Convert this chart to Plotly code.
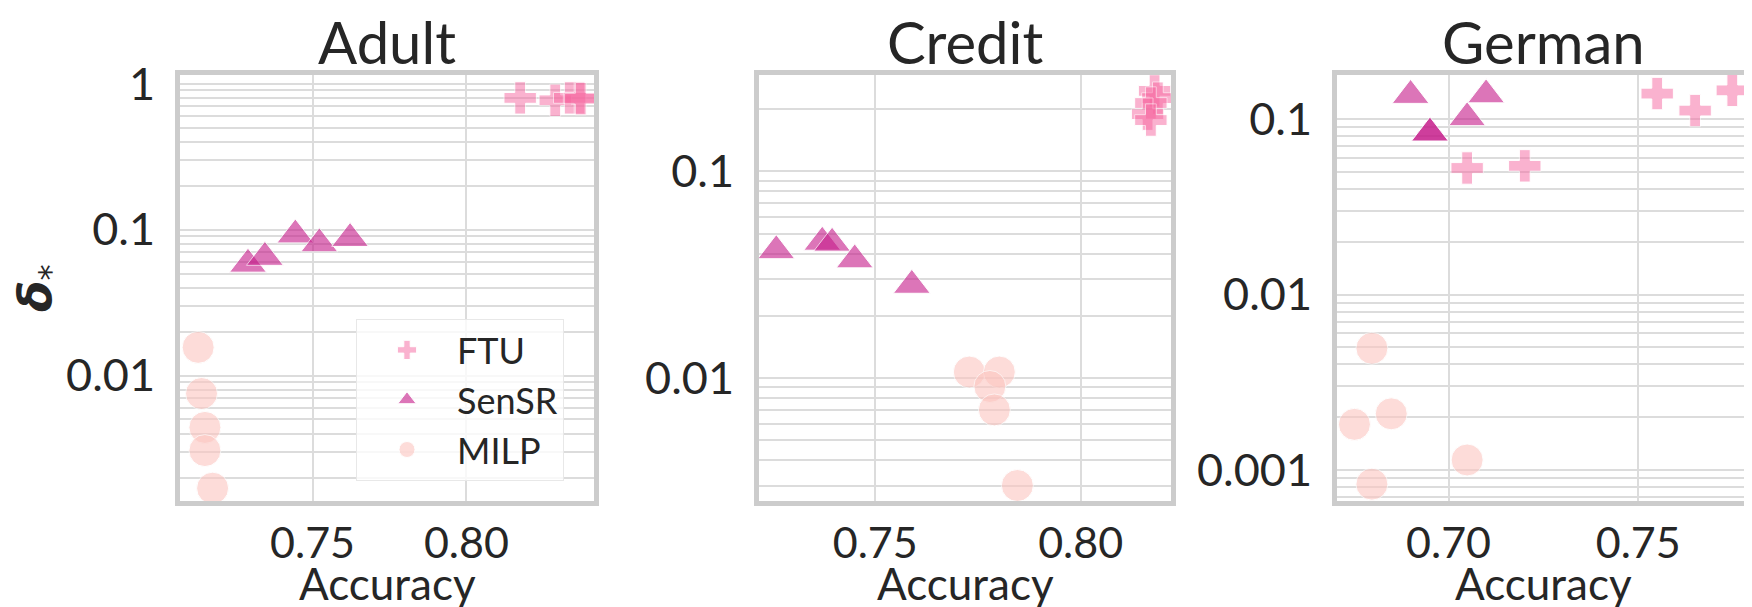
import plotly.graph_objects as go

# ---------------- data ----------------
datasets = ["Adult", "Credit", "German"]
methods = ["FTU", "SenSR", "MILP"]

# Adult
adult_ftu_acc = [0.8175, 0.8289, 0.8336, 0.8368, 0.8372]
adult_ftu_delta = [0.80, 0.77, 0.80, 0.80, 0.79]
adult_sensr_acc = [0.7290, 0.7345, 0.7444, 0.7522, 0.7622]
adult_sensr_delta = [0.058, 0.0646, 0.092, 0.080, 0.087]
adult_milp_acc = [0.7128, 0.7139, 0.7150, 0.7150, 0.7175]
adult_milp_delta = [0.0156, 0.00753, 0.00441, 0.00306, 0.00169]

# Credit
credit_ftu_acc = [0.8180, 0.8188, 0.8171, 0.8163, 0.8171]
credit_ftu_delta = [0.245, 0.226, 0.214, 0.189, 0.177]
credit_sensr_acc = [0.7259, 0.7371, 0.7395, 0.7450, 0.7589]
credit_sensr_delta = [0.0413, 0.0454, 0.0449, 0.0373, 0.0281]
credit_milp_acc = [0.7729, 0.7802, 0.7779, 0.7790, 0.7846]
credit_milp_delta = [0.01069, 0.01069, 0.0091, 0.00701, 0.00302]

# German
german_ftu_acc = [0.7049, 0.7201, 0.7550, 0.7650, 0.7748]
german_ftu_delta = [0.0527, 0.0542, 0.140, 0.112, 0.146]
german_sensr_acc = [0.6900, 0.6951, 0.6951, 0.7049, 0.7099]
german_sensr_delta = [0.1367, 0.0834, 0.0834, 0.102, 0.1377]
german_milp_acc = [0.6798, 0.6752, 0.6849, 0.7049, 0.6798]
german_milp_delta = [0.00494, 0.00182, 0.00209, 0.00114, 0.00083]

x_tickvals = [[0.75, 0.80], [0.75, 0.80], [0.70, 0.75]]
x_ticktext = [["0.75", "0.80"], ["0.75", "0.80"], ["0.70", "0.75"]]
y_tickvals = [[0.01, 0.1, 1], [0.01, 0.1], [0.001, 0.01, 0.1]]
y_ticktext = [["0.01", "0.1", "1"], ["0.01", "0.1"], ["0.001", "0.01", "0.1"]]

x_ranges = [[0.7069, 0.8415], [0.7217, 0.8220], [0.6706, 0.7792]]
y_ranges_log = [[-2.86, 0.06], [-2.595, -0.534], [-3.177, -0.748]]

x_label = "Accuracy"
y_label = "<b><i>δ</i></b><sub>*</sub>"

# ---------------- style ----------------
FONT = "Lato"
TXT = "#262626"
colors = {"FTU": "#f768a1", "SenSR": "#c51b8a", "MILP": "#fcc5c0"}
symbols = {"FTU": "cross", "SenSR": "triangle-up", "MILP": "circle"}
sizes = {"FTU": 27, "SenSR": 32, "MILP": 32}
opac = {"FTU": 0.5, "SenSR": 0.6, "MILP": 0.6}

data = {
    "Adult": {"FTU": (adult_ftu_acc, adult_ftu_delta),
              "SenSR": (adult_sensr_acc, adult_sensr_delta),
              "MILP": (adult_milp_acc, adult_milp_delta)},
    "Credit": {"FTU": (credit_ftu_acc, credit_ftu_delta),
               "SenSR": (credit_sensr_acc, credit_sensr_delta),
               "MILP": (credit_milp_acc, credit_milp_delta)},
    "German": {"FTU": (german_ftu_acc, german_ftu_delta),
               "SenSR": (german_sensr_acc, german_sensr_delta),
               "MILP": (german_milp_acc, german_milp_delta)},
}

W, H = 1752, 607
x_domains = [[172 / W, 586 / W], [751 / W, 1163 / W], [1329 / W, 1741 / W]]
y_domain = [(H - 493) / H, (H - 67) / H]

fig = go.Figure()

for i, ds in enumerate(datasets):
    xa = "x" if i == 0 else f"x{i+1}"
    ya = "y" if i == 0 else f"y{i+1}"
    for m in methods:
        xs, ys = data[ds][m]
        fig.add_trace(go.Scatter(
            x=xs, y=ys, mode="markers", name=m, legendgroup=m,
            showlegend=(i == 0), xaxis=xa, yaxis=ya,
            marker=dict(symbol=symbols[m], size=sizes[m], color=colors[m],
                        opacity=opac[m], line=dict(color="white", width=1)),
        ))

grid_col = "#dcdcdc"
frame_col = "#cccccc"
layout = dict(
    width=W, height=H,
    margin=dict(l=0, r=0, t=0, b=0, autoexpand=False),
    paper_bgcolor="white", plot_bgcolor="white",
    font=dict(family=FONT, color=TXT),
    legend=dict(x=348 / W, y=1 - 311 / H, xanchor="left", yanchor="top",
                bgcolor="rgba(255,255,255,0.8)", bordercolor="#e8e8e8",
                borderwidth=1, font=dict(size=36, family=FONT, color=TXT),
                itemwidth=90, tracegroupgap=0),
)

for i, ds in enumerate(datasets):
    xk = "xaxis" if i == 0 else f"xaxis{i+1}"
    yk = "yaxis" if i == 0 else f"yaxis{i+1}"
    ya_anchor = "y" if i == 0 else f"y{i+1}"
    xa_anchor = "x" if i == 0 else f"x{i+1}"
    layout[xk] = dict(
        domain=x_domains[i], anchor=ya_anchor, range=x_ranges[i],
        tickmode="array", tickvals=x_tickvals[i], ticktext=x_ticktext[i],
        showgrid=True, gridcolor=grid_col, gridwidth=2, zeroline=False,
        showline=True, linecolor=frame_col, linewidth=5, mirror=True,
        ticks="", ticklabelstandoff=0, automargin=False,
        tickfont=dict(size=43, family=FONT, color=TXT),
    )
    layout[yk] = dict(
        domain=y_domain, anchor=xa_anchor, type="log", range=y_ranges_log[i],
        tickmode="array", tickvals=y_tickvals[i], ticktext=y_ticktext[i],
        showgrid=True, gridcolor=grid_col, gridwidth=2, zeroline=False,
        showline=True, linecolor=frame_col, linewidth=5, mirror=True,
        ticks="", ticklabelstandoff=11, automargin=False,
        tickfont=dict(size=45, family=FONT, color=TXT),
        minor=dict(dtick="D1", showgrid=True, gridcolor=grid_col, gridwidth=1.5, ticks=""),
    )

annotations = []
for i, ds in enumerate(datasets):
    cx = (x_domains[i][0] + x_domains[i][1]) / 2
    annotations.append(dict(text=ds, x=cx, y=y_domain[1], xref="paper", yref="paper",
                            xanchor="center", yanchor="bottom", yshift=-3, showarrow=False,
                            font=dict(size=58, family=FONT, color=TXT)))
    annotations.append(dict(text=x_label, x=cx, y=(H - 603) / H, xref="paper", yref="paper",
                            xanchor="center", yanchor="bottom", showarrow=False,
                            font=dict(size=44, family=FONT, color=TXT)))
annotations.append(dict(text=y_label, x=30 / W, y=(y_domain[0] + y_domain[1]) / 2,
                        xref="paper", yref="paper", xanchor="center", yanchor="middle",
                        textangle=-90, showarrow=False,
                        font=dict(size=46, family="DejaVu Sans", color=TXT)))
layout["annotations"] = annotations

fig.update_layout(**layout)
fig.write_html("out.html")
